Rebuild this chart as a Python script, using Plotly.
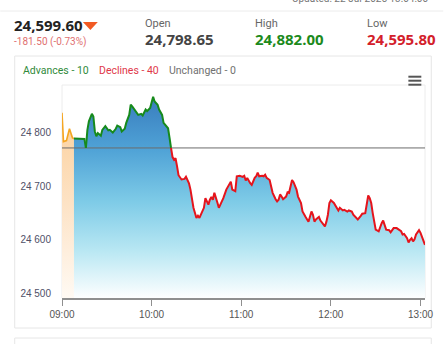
import pandas as pd
import plotly.graph_objects as go

DAY = "2025-07-22"

# ---- data ----
pre_times = ["09:00", "09:01", "09:03", "09:05", "09:07", "09:08"]
pre_vals = [24847, 24793, 24795, 24817, 24800, 24798.65]

times = ["09:08", "09:14", "09:15", "09:16", "09:17", "09:18", "09:20", "09:21", "09:22", "09:23",
         "09:24", "09:26", "09:27", "09:29", "09:31", "09:32", "09:34", "09:36", "09:37", "09:39",
         "09:40", "09:42", "09:43", "09:45", "09:46", "09:47", "09:49", "09:51", "09:53", "09:54",
         "09:56", "09:57", "09:59", "10:00", "10:01", "10:02", "10:04", "10:05", "10:07", "10:08",
         "10:09", "10:11", "10:12", "10:13", "10:14", "10:15", "10:16", "10:17", "10:18", "10:20",
         "10:22", "10:23", "10:25", "10:26", "10:27", "10:28", "10:30", "10:31", "10:32", "10:33",
         "10:35", "10:36", "10:37", "10:38", "10:39", "10:40", "10:41", "10:42", "10:44", "10:45",
         "10:46", "10:48", "10:50", "10:51", "10:53", "10:54", "10:56", "10:57", "10:59", "11:01",
         "11:02", "11:03", "11:04", "11:06", "11:07", "11:09", "11:10", "11:11", "11:12", "11:14",
         "11:15", "11:16", "11:17", "11:19", "11:20", "11:21", "11:23", "11:24", "11:25", "11:26",
         "11:27", "11:28", "11:30", "11:31", "11:32", "11:33", "11:34", "11:35", "11:37", "11:38",
         "11:40", "11:41", "11:42", "11:43", "11:45", "11:46", "11:47", "11:48", "11:49", "11:50",
         "11:52", "11:53", "11:55", "11:56", "11:57", "11:58", "11:59", "12:00", "12:02", "12:04",
         "12:05", "12:06", "12:08", "12:09", "12:11", "12:12", "12:14", "12:15", "12:17", "12:18",
         "12:20", "12:21", "12:23", "12:24", "12:25", "12:26", "12:27", "12:28", "12:29", "12:30",
         "12:32", "12:33", "12:34", "12:35", "12:36", "12:37", "12:39", "12:40", "12:42", "12:44",
         "12:45", "12:47", "12:48", "12:49", "12:51", "12:52", "12:53", "12:54", "12:55", "12:56",
         "12:57", "12:58", "12:59", "13:00", "13:01", "13:02", "13:03"]
values = [24798.65, 24798.65, 24798, 24781, 24815, 24831, 24845, 24840, 24812, 24803,
          24809, 24804, 24815, 24822, 24814, 24815, 24810, 24817, 24823, 24820,
          24812, 24817, 24828, 24843, 24862, 24859, 24850, 24843, 24845, 24842,
          24853, 24850, 24856, 24865, 24877, 24868, 24862, 24853, 24843, 24828,
          24825, 24818, 24800, 24781, 24764, 24759, 24762, 24747, 24730, 24722,
          24723, 24727, 24715, 24703, 24684, 24669, 24650, 24654, 24650, 24656,
          24669, 24687, 24681, 24675, 24684, 24689, 24684, 24697, 24679, 24669,
          24675, 24687, 24703, 24709, 24718, 24703, 24700, 24728, 24729, 24727,
          24729, 24720, 24725, 24715, 24712, 24725, 24728, 24735, 24728, 24729,
          24728, 24731, 24725, 24721, 24709, 24697, 24685, 24681, 24684, 24694,
          24690, 24685, 24690, 24698, 24697, 24712, 24721, 24717, 24703, 24690,
          24678, 24662, 24658, 24652, 24643, 24653, 24662, 24656, 24643, 24647,
          24652, 24645, 24639, 24634, 24643, 24656, 24678, 24683, 24678, 24667,
          24664, 24669, 24664, 24665, 24662, 24664, 24662, 24656, 24650, 24647,
          24654, 24658, 24659, 24675, 24692, 24687, 24678, 24659, 24640, 24628,
          24625, 24634, 24640, 24645, 24635, 24628, 24627, 24623, 24631, 24631,
          24629, 24625, 24619, 24620, 24612, 24604, 24609, 24612, 24606, 24610,
          24619, 24623, 24627, 24622, 24615, 24606, 24599.60]

prev_close = 24781.10
last_price = "24,599.60"
change_text = "-181.50 (-0.73%)"
open_text, high_text, low_text = "24,798.65", "24,882.00", "24,595.80"
breadth = [("Advances - 10", "#2f8a3a"), ("Declines - 40", "#e0384a"), ("Unchanged - 0", "#707070")]

y_ticks = [24500, 24600, 24700, 24800]
y_ticktext = ["24 500", "24 600", "24 700", "24 800"]
x_ticks = ["09:00", "10:00", "11:00", "12:00", "13:00"]

# ---- helpers ----
def ts(hm):
    return pd.Timestamp(f"{DAY} {hm}")

pre_t = [ts(t) for t in pre_times]
main_t = [ts(t) for t in times]


def zone_runs(t, v, thr):
    runs = []
    key = v[0] >= thr
    xs, ys = [t[0]], [v[0]]
    for i in range(1, len(v)):
        k = v[i] >= thr
        if k != key:
            f = (thr - v[i - 1]) / (v[i] - v[i - 1])
            tc = t[i - 1] + (t[i] - t[i - 1]) * f
            xs.append(tc); ys.append(thr)
            runs.append((key, xs, ys))
            xs, ys = [tc], [thr]
            key = k
        xs.append(t[i]); ys.append(v[i])
    runs.append((key, xs, ys))
    return runs


def joined(runs, want):
    X, Y = [], []
    for k, xs, ys in runs:
        if k == want:
            if X:
                X.append(None); Y.append(None)
            X += xs; Y += ys
    return X, Y


W, H = 445, 344
L, R, T, B = 62, 426.7, 85, 298


def fx(px):
    return (px - L) / (R - L)


def fy(py):
    return (B - py) / (B - T)


fig = go.Figure()

# pre-open area
fig.add_trace(go.Scatter(
    x=pre_t, y=pre_vals, mode="lines", fill="tozeroy",
    line=dict(color="#f5a623", width=1.6),
    fillgradient=dict(type="vertical", start=24500, stop=24850,
                      colorscale=[[0, "#fffaf4"], [0.5, "#fde3c6"], [1, "#fbd09c"]]),
    hoverinfo="skip", showlegend=False))

# main area fill
fig.add_trace(go.Scatter(
    x=main_t, y=values, mode="lines", fill="tozeroy",
    line=dict(width=0, color="rgba(0,0,0,0)"),
    fillgradient=dict(type="vertical", start=24500, stop=24880,
                      colorscale=[[0, "#ffffff"], [0.24, "#b8e7f3"], [0.48, "#7ecbe7"],
                                  [0.74, "#4fa2d6"], [1, "#387cbd"]]),
    hoverinfo="skip", showlegend=False))

# previous close line
x_start, x_end = ts("09:00"), ts("13:03")
fig.add_trace(go.Scatter(x=[x_start, x_end], y=[prev_close, prev_close], mode="lines",
                         line=dict(color="#6b6b6b", width=1), hoverinfo="skip", showlegend=False))

runs = zone_runs(main_t, values, prev_close)
gx, gy = joined(runs, True)
rx, ry = joined(runs, False)
fig.add_trace(go.Scatter(x=gx, y=gy, mode="lines", line=dict(color="#168a1c", width=2),
                         connectgaps=False, showlegend=False))
fig.add_trace(go.Scatter(x=rx, y=ry, mode="lines", line=dict(color="#e5141c", width=2),
                         connectgaps=False, showlegend=False))

shapes = []
# cards / borders
shapes.append(dict(type="line", xref="paper", yref="paper", x0=fx(0), x1=fx(445), y0=fy(11), y1=fy(11),
                   line=dict(color="#ececec", width=1), layer="below"))
shapes.append(dict(type="rect", xref="paper", yref="paper", x0=fx(14.5), x1=fx(433), y0=fy(56), y1=fy(328),
                   line=dict(color="#e6e6e6", width=1), fillcolor="white", layer="below"))
shapes.append(dict(type="rect", xref="paper", yref="paper", x0=fx(14.5), x1=fx(433), y0=fy(338), y1=fy(360),
                   line=dict(color="#e6e6e6", width=1), fillcolor="white", layer="below"))
# plot border (faint)
shapes.append(dict(type="rect", xref="paper", yref="paper", x0=0, x1=1, y0=0, y1=1,
                   line=dict(color="#ececec", width=1), layer="below"))
# hamburger icon
for yy in (76.7, 80.7, 84.7):
    shapes.append(dict(type="line", xref="paper", yref="paper", x0=fx(410), x1=fx(423), y0=fy(yy), y1=fy(yy),
                       line=dict(color="#555555", width=2)))
# down triangle
shapes.append(dict(type="path", xref="paper", yref="paper",
                   path=f"M {fx(83)} {fy(22)} L {fx(98)} {fy(22)} L {fx(90.5)} {fy(30)} Z",
                   fillcolor="#f15a24", line=dict(width=0)))

ann = []


def text(px, py, s, size, color, bold=False, family="Open Sans", anchor="left"):
    ann.append(dict(xref="paper", yref="paper", x=fx(px), y=fy(py), text=f"<b>{s}</b>" if bold else s,
                    showarrow=False, xanchor=anchor, yanchor="middle",
                    font=dict(size=size, color=color, family=family)))


text(432, -2, "Updated: 22-Jul-2025 13:04:00", 10, "#777777", family="Roboto", anchor="right")
text(12, 25, last_price, 15, "#222222", bold=True)
text(12, 42, change_text, 10, "#e07070", family="Roboto")
text(143, 23, "Open", 11, "#666666", family="Roboto")
text(143, 39, open_text, 15, "#444444", bold=True)
text(254, 23, "High", 11, "#666666", family="Roboto")
text(254, 39, high_text, 15, "#1c8a1c", bold=True)
text(366, 23, "Low", 11, "#666666", family="Roboto")
text(366, 39, low_text, 15, "#d3202a", bold=True)
bx = [21, 97, 167]
for (s, c), xx in zip(breadth, bx):
    text(xx, 70, s, 10.5, c, family="Roboto")

fig.update_layout(
    width=W, height=H, autosize=False,
    margin=dict(l=L, r=W - R, t=T, b=H - B, pad=0),
    paper_bgcolor="white", plot_bgcolor="rgba(0,0,0,0)",
    shapes=shapes, annotations=ann, showlegend=False,
    xaxis=dict(type="date", range=[x_start, x_end], tickvals=[ts(t) for t in x_ticks], ticktext=x_ticks,
               showgrid=False, zeroline=False, showline=True, linecolor="#8f8f8f", linewidth=1.5,
               ticks="outside", ticklen=6, tickcolor="#8f8f8f", tickwidth=1.2,
               tickfont=dict(family="Liberation Sans", size=10, color="#555555")),
    yaxis=dict(range=[24500, 24899], tickvals=y_ticks, ticktext=y_ticktext, showgrid=False,
               zeroline=False, showline=False, ticks="", ticklabelstandoff=10, ticklabelshift=-5,
               tickfont=dict(family="Liberation Sans", size=10, color="#505068")),
)

fig.write_html("out.html")
